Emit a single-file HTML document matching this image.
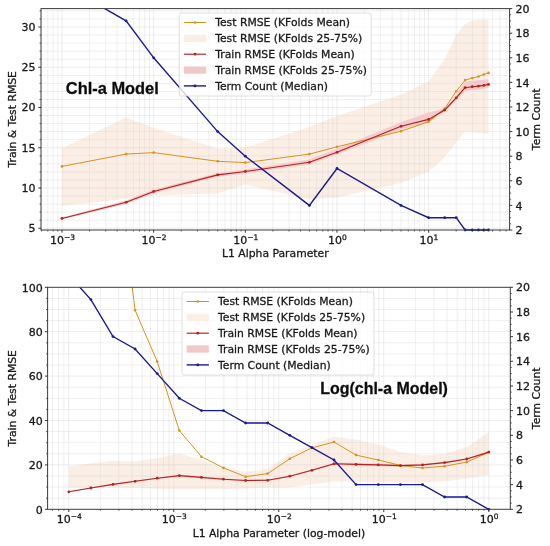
<!DOCTYPE html>
<html><head><meta charset="utf-8"><title>L1 Alpha Parameter</title>
<style>html,body{margin:0;padding:0;background:#fff}svg{display:block}text{stroke:#1a1a1a;stroke-width:0.3px}</style></head>
<body>
<svg width="550" height="546" viewBox="0 0 550 546" font-family="'DejaVu Sans','Liberation Sans',sans-serif" fill="#1a1a1a">
<rect width="550" height="546" fill="#fff"/>
<clipPath id="clipA"><rect x="41" y="8.6" width="468.6" height="221.4"/></clipPath>
<rect x="41" y="8.6" width="468.6" height="221.4" fill="#fff"/>
<g clip-path="url(#clipA)">
<polygon points="62.0,147.9 126.1,117.4 153.7,127.7 217.7,148.7 245.3,147.4 309.4,127.0 337.0,116.0 401.0,94.5 428.6,81.3 444.7,59.2 456.2,34.7 465.1,24.0 472.3,20.4 478.5,19.8 483.8,19.7 488.5,19.7 488.5,134.0 483.8,133.4 478.5,132.8 472.3,132.3 465.1,131.8 456.2,142.3 444.7,157.5 428.6,171.7 401.0,183.0 337.0,197.6 309.4,199.4 245.3,184.6 217.7,193.6 153.7,195.4 126.1,198.7 62.0,205.9" fill="#fbeee5" opacity="1"/>
<line x1="41.67" y1="8.6" x2="41.67" y2="230.0" stroke="#d2d2d2" stroke-width="0.55" opacity="0.62"/>
<line x1="47.80" y1="8.6" x2="47.80" y2="230.0" stroke="#d2d2d2" stroke-width="0.55" opacity="0.62"/>
<line x1="53.12" y1="8.6" x2="53.12" y2="230.0" stroke="#d2d2d2" stroke-width="0.55" opacity="0.62"/>
<line x1="57.81" y1="8.6" x2="57.81" y2="230.0" stroke="#d2d2d2" stroke-width="0.55" opacity="0.62"/>
<line x1="62.00" y1="8.6" x2="62.00" y2="230.0" stroke="#c8c8c8" stroke-width="0.55" opacity="0.62"/>
<line x1="89.59" y1="8.6" x2="89.59" y2="230.0" stroke="#d2d2d2" stroke-width="0.55" opacity="0.62"/>
<line x1="105.73" y1="8.6" x2="105.73" y2="230.0" stroke="#d2d2d2" stroke-width="0.55" opacity="0.62"/>
<line x1="117.18" y1="8.6" x2="117.18" y2="230.0" stroke="#d2d2d2" stroke-width="0.55" opacity="0.62"/>
<line x1="126.06" y1="8.6" x2="126.06" y2="230.0" stroke="#d2d2d2" stroke-width="0.55" opacity="0.62"/>
<line x1="133.32" y1="8.6" x2="133.32" y2="230.0" stroke="#d2d2d2" stroke-width="0.55" opacity="0.62"/>
<line x1="139.45" y1="8.6" x2="139.45" y2="230.0" stroke="#d2d2d2" stroke-width="0.55" opacity="0.62"/>
<line x1="144.77" y1="8.6" x2="144.77" y2="230.0" stroke="#d2d2d2" stroke-width="0.55" opacity="0.62"/>
<line x1="149.46" y1="8.6" x2="149.46" y2="230.0" stroke="#d2d2d2" stroke-width="0.55" opacity="0.62"/>
<line x1="153.65" y1="8.6" x2="153.65" y2="230.0" stroke="#c8c8c8" stroke-width="0.55" opacity="0.62"/>
<line x1="181.24" y1="8.6" x2="181.24" y2="230.0" stroke="#d2d2d2" stroke-width="0.55" opacity="0.62"/>
<line x1="197.38" y1="8.6" x2="197.38" y2="230.0" stroke="#d2d2d2" stroke-width="0.55" opacity="0.62"/>
<line x1="208.83" y1="8.6" x2="208.83" y2="230.0" stroke="#d2d2d2" stroke-width="0.55" opacity="0.62"/>
<line x1="217.71" y1="8.6" x2="217.71" y2="230.0" stroke="#d2d2d2" stroke-width="0.55" opacity="0.62"/>
<line x1="224.97" y1="8.6" x2="224.97" y2="230.0" stroke="#d2d2d2" stroke-width="0.55" opacity="0.62"/>
<line x1="231.10" y1="8.6" x2="231.10" y2="230.0" stroke="#d2d2d2" stroke-width="0.55" opacity="0.62"/>
<line x1="236.42" y1="8.6" x2="236.42" y2="230.0" stroke="#d2d2d2" stroke-width="0.55" opacity="0.62"/>
<line x1="241.11" y1="8.6" x2="241.11" y2="230.0" stroke="#d2d2d2" stroke-width="0.55" opacity="0.62"/>
<line x1="245.30" y1="8.6" x2="245.30" y2="230.0" stroke="#c8c8c8" stroke-width="0.55" opacity="0.62"/>
<line x1="272.89" y1="8.6" x2="272.89" y2="230.0" stroke="#d2d2d2" stroke-width="0.55" opacity="0.62"/>
<line x1="289.03" y1="8.6" x2="289.03" y2="230.0" stroke="#d2d2d2" stroke-width="0.55" opacity="0.62"/>
<line x1="300.48" y1="8.6" x2="300.48" y2="230.0" stroke="#d2d2d2" stroke-width="0.55" opacity="0.62"/>
<line x1="309.36" y1="8.6" x2="309.36" y2="230.0" stroke="#d2d2d2" stroke-width="0.55" opacity="0.62"/>
<line x1="316.62" y1="8.6" x2="316.62" y2="230.0" stroke="#d2d2d2" stroke-width="0.55" opacity="0.62"/>
<line x1="322.75" y1="8.6" x2="322.75" y2="230.0" stroke="#d2d2d2" stroke-width="0.55" opacity="0.62"/>
<line x1="328.07" y1="8.6" x2="328.07" y2="230.0" stroke="#d2d2d2" stroke-width="0.55" opacity="0.62"/>
<line x1="332.76" y1="8.6" x2="332.76" y2="230.0" stroke="#d2d2d2" stroke-width="0.55" opacity="0.62"/>
<line x1="336.95" y1="8.6" x2="336.95" y2="230.0" stroke="#c8c8c8" stroke-width="0.55" opacity="0.62"/>
<line x1="364.54" y1="8.6" x2="364.54" y2="230.0" stroke="#d2d2d2" stroke-width="0.55" opacity="0.62"/>
<line x1="380.68" y1="8.6" x2="380.68" y2="230.0" stroke="#d2d2d2" stroke-width="0.55" opacity="0.62"/>
<line x1="392.13" y1="8.6" x2="392.13" y2="230.0" stroke="#d2d2d2" stroke-width="0.55" opacity="0.62"/>
<line x1="401.01" y1="8.6" x2="401.01" y2="230.0" stroke="#d2d2d2" stroke-width="0.55" opacity="0.62"/>
<line x1="408.27" y1="8.6" x2="408.27" y2="230.0" stroke="#d2d2d2" stroke-width="0.55" opacity="0.62"/>
<line x1="414.40" y1="8.6" x2="414.40" y2="230.0" stroke="#d2d2d2" stroke-width="0.55" opacity="0.62"/>
<line x1="419.72" y1="8.6" x2="419.72" y2="230.0" stroke="#d2d2d2" stroke-width="0.55" opacity="0.62"/>
<line x1="424.41" y1="8.6" x2="424.41" y2="230.0" stroke="#d2d2d2" stroke-width="0.55" opacity="0.62"/>
<line x1="428.60" y1="8.6" x2="428.60" y2="230.0" stroke="#c8c8c8" stroke-width="0.55" opacity="0.62"/>
<line x1="456.19" y1="8.6" x2="456.19" y2="230.0" stroke="#d2d2d2" stroke-width="0.55" opacity="0.62"/>
<line x1="472.33" y1="8.6" x2="472.33" y2="230.0" stroke="#d2d2d2" stroke-width="0.55" opacity="0.62"/>
<line x1="483.78" y1="8.6" x2="483.78" y2="230.0" stroke="#d2d2d2" stroke-width="0.55" opacity="0.62"/>
<line x1="492.66" y1="8.6" x2="492.66" y2="230.0" stroke="#d2d2d2" stroke-width="0.55" opacity="0.62"/>
<line x1="499.92" y1="8.6" x2="499.92" y2="230.0" stroke="#d2d2d2" stroke-width="0.55" opacity="0.62"/>
<line x1="506.05" y1="8.6" x2="506.05" y2="230.0" stroke="#d2d2d2" stroke-width="0.55" opacity="0.62"/>
<line x1="41" y1="228.25" x2="509.6" y2="228.25" stroke="#c8c8c8" stroke-width="0.55" opacity="0.62"/>
<line x1="41" y1="220.20" x2="509.6" y2="220.20" stroke="#d2d2d2" stroke-width="0.55" opacity="0.62"/>
<line x1="41" y1="212.15" x2="509.6" y2="212.15" stroke="#d2d2d2" stroke-width="0.55" opacity="0.62"/>
<line x1="41" y1="204.10" x2="509.6" y2="204.10" stroke="#d2d2d2" stroke-width="0.55" opacity="0.62"/>
<line x1="41" y1="196.05" x2="509.6" y2="196.05" stroke="#d2d2d2" stroke-width="0.55" opacity="0.62"/>
<line x1="41" y1="188.00" x2="509.6" y2="188.00" stroke="#c8c8c8" stroke-width="0.55" opacity="0.62"/>
<line x1="41" y1="179.95" x2="509.6" y2="179.95" stroke="#d2d2d2" stroke-width="0.55" opacity="0.62"/>
<line x1="41" y1="171.90" x2="509.6" y2="171.90" stroke="#d2d2d2" stroke-width="0.55" opacity="0.62"/>
<line x1="41" y1="163.85" x2="509.6" y2="163.85" stroke="#d2d2d2" stroke-width="0.55" opacity="0.62"/>
<line x1="41" y1="155.80" x2="509.6" y2="155.80" stroke="#d2d2d2" stroke-width="0.55" opacity="0.62"/>
<line x1="41" y1="147.75" x2="509.6" y2="147.75" stroke="#c8c8c8" stroke-width="0.55" opacity="0.62"/>
<line x1="41" y1="139.70" x2="509.6" y2="139.70" stroke="#d2d2d2" stroke-width="0.55" opacity="0.62"/>
<line x1="41" y1="131.65" x2="509.6" y2="131.65" stroke="#d2d2d2" stroke-width="0.55" opacity="0.62"/>
<line x1="41" y1="123.60" x2="509.6" y2="123.60" stroke="#d2d2d2" stroke-width="0.55" opacity="0.62"/>
<line x1="41" y1="115.55" x2="509.6" y2="115.55" stroke="#d2d2d2" stroke-width="0.55" opacity="0.62"/>
<line x1="41" y1="107.50" x2="509.6" y2="107.50" stroke="#c8c8c8" stroke-width="0.55" opacity="0.62"/>
<line x1="41" y1="99.45" x2="509.6" y2="99.45" stroke="#d2d2d2" stroke-width="0.55" opacity="0.62"/>
<line x1="41" y1="91.40" x2="509.6" y2="91.40" stroke="#d2d2d2" stroke-width="0.55" opacity="0.62"/>
<line x1="41" y1="83.35" x2="509.6" y2="83.35" stroke="#d2d2d2" stroke-width="0.55" opacity="0.62"/>
<line x1="41" y1="75.30" x2="509.6" y2="75.30" stroke="#d2d2d2" stroke-width="0.55" opacity="0.62"/>
<line x1="41" y1="67.25" x2="509.6" y2="67.25" stroke="#c8c8c8" stroke-width="0.55" opacity="0.62"/>
<line x1="41" y1="59.20" x2="509.6" y2="59.20" stroke="#d2d2d2" stroke-width="0.55" opacity="0.62"/>
<line x1="41" y1="51.15" x2="509.6" y2="51.15" stroke="#d2d2d2" stroke-width="0.55" opacity="0.62"/>
<line x1="41" y1="43.10" x2="509.6" y2="43.10" stroke="#d2d2d2" stroke-width="0.55" opacity="0.62"/>
<line x1="41" y1="35.05" x2="509.6" y2="35.05" stroke="#d2d2d2" stroke-width="0.55" opacity="0.62"/>
<line x1="41" y1="27.00" x2="509.6" y2="27.00" stroke="#c8c8c8" stroke-width="0.55" opacity="0.62"/>
<line x1="41" y1="18.95" x2="509.6" y2="18.95" stroke="#d2d2d2" stroke-width="0.55" opacity="0.62"/>
<line x1="41" y1="10.90" x2="509.6" y2="10.90" stroke="#d2d2d2" stroke-width="0.55" opacity="0.62"/>
<polygon points="62.0,217.5 126.1,200.6 153.7,189.6 217.7,172.9 245.3,169.5 309.4,159.5 337.0,148.7 401.0,122.2 428.6,112.4 444.7,108.5 456.2,95.0 465.1,81.4 472.3,80.7 478.5,80.3 483.8,79.8 488.5,79.2 488.5,87.7 483.8,88.7 478.5,89.4 472.3,90.0 465.1,91.0 456.2,100.5 444.7,111.8 428.6,122.2 401.0,129.4 337.0,154.6 309.4,164.6 245.3,173.4 217.7,176.8 153.7,193.3 126.1,203.9 62.0,219.5" fill="#f1c8c8" opacity="0.9"/>
<polyline points="62.0,166.4 126.1,154.1 153.7,152.6 217.7,161.3 245.3,162.6 309.4,154.1 337.0,146.8 401.0,131.2 428.6,121.7 444.7,108.5 456.2,91.3 465.1,80.1 472.3,78.1 478.5,76.5 483.8,74.5 488.5,72.9" fill="none" stroke="#d4941e" stroke-width="1.0" stroke-linejoin="round"/>
<circle cx="62.0" cy="166.4" r="1.3" fill="#d4941e"/>
<circle cx="126.1" cy="154.1" r="1.3" fill="#d4941e"/>
<circle cx="153.7" cy="152.6" r="1.3" fill="#d4941e"/>
<circle cx="217.7" cy="161.3" r="1.3" fill="#d4941e"/>
<circle cx="245.3" cy="162.6" r="1.3" fill="#d4941e"/>
<circle cx="309.4" cy="154.1" r="1.3" fill="#d4941e"/>
<circle cx="337.0" cy="146.8" r="1.3" fill="#d4941e"/>
<circle cx="401.0" cy="131.2" r="1.3" fill="#d4941e"/>
<circle cx="428.6" cy="121.7" r="1.3" fill="#d4941e"/>
<circle cx="444.7" cy="108.5" r="1.3" fill="#d4941e"/>
<circle cx="456.2" cy="91.3" r="1.3" fill="#d4941e"/>
<circle cx="465.1" cy="80.1" r="1.3" fill="#d4941e"/>
<circle cx="472.3" cy="78.1" r="1.3" fill="#d4941e"/>
<circle cx="478.5" cy="76.5" r="1.3" fill="#d4941e"/>
<circle cx="483.8" cy="74.5" r="1.3" fill="#d4941e"/>
<circle cx="488.5" cy="72.9" r="1.3" fill="#d4941e"/>
<polyline points="62.0,218.5 126.1,202.3 153.7,191.5 217.7,174.9 245.3,171.5 309.4,162.3 337.0,152.3 401.0,126.3 428.6,119.4 444.7,110.1 456.2,97.9 465.1,87.7 472.3,86.7 478.5,86.1 483.8,85.4 488.5,84.4" fill="none" stroke="#b81f1f" stroke-width="1.15" stroke-linejoin="round"/>
<circle cx="62.0" cy="218.5" r="1.4" fill="#b81f1f"/>
<circle cx="126.1" cy="202.3" r="1.4" fill="#b81f1f"/>
<circle cx="153.7" cy="191.5" r="1.4" fill="#b81f1f"/>
<circle cx="217.7" cy="174.9" r="1.4" fill="#b81f1f"/>
<circle cx="245.3" cy="171.5" r="1.4" fill="#b81f1f"/>
<circle cx="309.4" cy="162.3" r="1.4" fill="#b81f1f"/>
<circle cx="337.0" cy="152.3" r="1.4" fill="#b81f1f"/>
<circle cx="401.0" cy="126.3" r="1.4" fill="#b81f1f"/>
<circle cx="428.6" cy="119.4" r="1.4" fill="#b81f1f"/>
<circle cx="444.7" cy="110.1" r="1.4" fill="#b81f1f"/>
<circle cx="456.2" cy="97.9" r="1.4" fill="#b81f1f"/>
<circle cx="465.1" cy="87.7" r="1.4" fill="#b81f1f"/>
<circle cx="472.3" cy="86.7" r="1.4" fill="#b81f1f"/>
<circle cx="478.5" cy="86.1" r="1.4" fill="#b81f1f"/>
<circle cx="483.8" cy="85.4" r="1.4" fill="#b81f1f"/>
<circle cx="488.5" cy="84.4" r="1.4" fill="#b81f1f"/>
</g>
<clipPath id="clipbA"><rect x="41" y="8.6" width="468.6" height="224.4"/></clipPath>
<g clip-path="url(#clipbA)">
<polyline points="62.0,-16.0 126.1,20.9 153.7,57.8 217.7,131.6 245.3,156.2 309.4,205.4 337.0,168.5 401.0,205.4 428.6,217.7 444.7,217.7 456.2,217.7 465.1,230.0 472.3,230.0 478.5,230.0 483.8,230.0 488.5,230.0" fill="none" stroke="#1a1a94" stroke-width="1.4" stroke-linejoin="miter"/>
<circle cx="62.0" cy="-16.0" r="1.4" fill="#1a1a94"/>
<circle cx="126.1" cy="20.9" r="1.4" fill="#1a1a94"/>
<circle cx="153.7" cy="57.8" r="1.4" fill="#1a1a94"/>
<circle cx="217.7" cy="131.6" r="1.4" fill="#1a1a94"/>
<circle cx="245.3" cy="156.2" r="1.4" fill="#1a1a94"/>
<circle cx="309.4" cy="205.4" r="1.4" fill="#1a1a94"/>
<circle cx="337.0" cy="168.5" r="1.4" fill="#1a1a94"/>
<circle cx="401.0" cy="205.4" r="1.4" fill="#1a1a94"/>
<circle cx="428.6" cy="217.7" r="1.4" fill="#1a1a94"/>
<circle cx="444.7" cy="217.7" r="1.4" fill="#1a1a94"/>
<circle cx="456.2" cy="217.7" r="1.4" fill="#1a1a94"/>
<circle cx="465.1" cy="230.0" r="1.4" fill="#1a1a94"/>
<circle cx="472.3" cy="230.0" r="1.4" fill="#1a1a94"/>
<circle cx="478.5" cy="230.0" r="1.4" fill="#1a1a94"/>
<circle cx="483.8" cy="230.0" r="1.4" fill="#1a1a94"/>
<circle cx="488.5" cy="230.0" r="1.4" fill="#1a1a94"/>
</g>
<rect x="41" y="8.6" width="468.6" height="221.4" fill="none" stroke="#3c3c3c" stroke-width="1"/>
<line x1="38.3" y1="228.25" x2="41" y2="228.25" stroke="#222" stroke-width="0.9"/>
<text x="35.4" y="232.1" text-anchor="end" font-size="11">5</text>
<line x1="39.5" y1="220.20" x2="41" y2="220.20" stroke="#222" stroke-width="0.7"/>
<line x1="39.5" y1="212.15" x2="41" y2="212.15" stroke="#222" stroke-width="0.7"/>
<line x1="39.5" y1="204.10" x2="41" y2="204.10" stroke="#222" stroke-width="0.7"/>
<line x1="39.5" y1="196.05" x2="41" y2="196.05" stroke="#222" stroke-width="0.7"/>
<line x1="38.3" y1="188.00" x2="41" y2="188.00" stroke="#222" stroke-width="0.9"/>
<text x="35.4" y="191.8" text-anchor="end" font-size="11">10</text>
<line x1="39.5" y1="179.95" x2="41" y2="179.95" stroke="#222" stroke-width="0.7"/>
<line x1="39.5" y1="171.90" x2="41" y2="171.90" stroke="#222" stroke-width="0.7"/>
<line x1="39.5" y1="163.85" x2="41" y2="163.85" stroke="#222" stroke-width="0.7"/>
<line x1="39.5" y1="155.80" x2="41" y2="155.80" stroke="#222" stroke-width="0.7"/>
<line x1="38.3" y1="147.75" x2="41" y2="147.75" stroke="#222" stroke-width="0.9"/>
<text x="35.4" y="151.6" text-anchor="end" font-size="11">15</text>
<line x1="39.5" y1="139.70" x2="41" y2="139.70" stroke="#222" stroke-width="0.7"/>
<line x1="39.5" y1="131.65" x2="41" y2="131.65" stroke="#222" stroke-width="0.7"/>
<line x1="39.5" y1="123.60" x2="41" y2="123.60" stroke="#222" stroke-width="0.7"/>
<line x1="39.5" y1="115.55" x2="41" y2="115.55" stroke="#222" stroke-width="0.7"/>
<line x1="38.3" y1="107.50" x2="41" y2="107.50" stroke="#222" stroke-width="0.9"/>
<text x="35.4" y="111.3" text-anchor="end" font-size="11">20</text>
<line x1="39.5" y1="99.45" x2="41" y2="99.45" stroke="#222" stroke-width="0.7"/>
<line x1="39.5" y1="91.40" x2="41" y2="91.40" stroke="#222" stroke-width="0.7"/>
<line x1="39.5" y1="83.35" x2="41" y2="83.35" stroke="#222" stroke-width="0.7"/>
<line x1="39.5" y1="75.30" x2="41" y2="75.30" stroke="#222" stroke-width="0.7"/>
<line x1="38.3" y1="67.25" x2="41" y2="67.25" stroke="#222" stroke-width="0.9"/>
<text x="35.4" y="71.0" text-anchor="end" font-size="11">25</text>
<line x1="39.5" y1="59.20" x2="41" y2="59.20" stroke="#222" stroke-width="0.7"/>
<line x1="39.5" y1="51.15" x2="41" y2="51.15" stroke="#222" stroke-width="0.7"/>
<line x1="39.5" y1="43.10" x2="41" y2="43.10" stroke="#222" stroke-width="0.7"/>
<line x1="39.5" y1="35.05" x2="41" y2="35.05" stroke="#222" stroke-width="0.7"/>
<line x1="38.3" y1="27.00" x2="41" y2="27.00" stroke="#222" stroke-width="0.9"/>
<text x="35.4" y="30.8" text-anchor="end" font-size="11">30</text>
<line x1="39.5" y1="18.95" x2="41" y2="18.95" stroke="#222" stroke-width="0.7"/>
<line x1="39.5" y1="10.90" x2="41" y2="10.90" stroke="#222" stroke-width="0.7"/>
<line x1="509.6" y1="230.00" x2="512.3000000000001" y2="230.00" stroke="#222" stroke-width="0.9"/>
<text x="515.6" y="234.1" font-size="11">2</text>
<line x1="509.6" y1="223.85" x2="511.1" y2="223.85" stroke="#222" stroke-width="0.7"/>
<line x1="509.6" y1="217.70" x2="511.1" y2="217.70" stroke="#222" stroke-width="0.7"/>
<line x1="509.6" y1="211.55" x2="511.1" y2="211.55" stroke="#222" stroke-width="0.7"/>
<line x1="509.6" y1="205.40" x2="512.3000000000001" y2="205.40" stroke="#222" stroke-width="0.9"/>
<text x="515.6" y="209.5" font-size="11">4</text>
<line x1="509.6" y1="199.25" x2="511.1" y2="199.25" stroke="#222" stroke-width="0.7"/>
<line x1="509.6" y1="193.10" x2="511.1" y2="193.10" stroke="#222" stroke-width="0.7"/>
<line x1="509.6" y1="186.95" x2="511.1" y2="186.95" stroke="#222" stroke-width="0.7"/>
<line x1="509.6" y1="180.80" x2="512.3000000000001" y2="180.80" stroke="#222" stroke-width="0.9"/>
<text x="515.6" y="184.9" font-size="11">6</text>
<line x1="509.6" y1="174.65" x2="511.1" y2="174.65" stroke="#222" stroke-width="0.7"/>
<line x1="509.6" y1="168.50" x2="511.1" y2="168.50" stroke="#222" stroke-width="0.7"/>
<line x1="509.6" y1="162.35" x2="511.1" y2="162.35" stroke="#222" stroke-width="0.7"/>
<line x1="509.6" y1="156.20" x2="512.3000000000001" y2="156.20" stroke="#222" stroke-width="0.9"/>
<text x="515.6" y="160.3" font-size="11">8</text>
<line x1="509.6" y1="150.05" x2="511.1" y2="150.05" stroke="#222" stroke-width="0.7"/>
<line x1="509.6" y1="143.90" x2="511.1" y2="143.90" stroke="#222" stroke-width="0.7"/>
<line x1="509.6" y1="137.75" x2="511.1" y2="137.75" stroke="#222" stroke-width="0.7"/>
<line x1="509.6" y1="131.60" x2="512.3000000000001" y2="131.60" stroke="#222" stroke-width="0.9"/>
<text x="515.6" y="135.7" font-size="11">10</text>
<line x1="509.6" y1="125.45" x2="511.1" y2="125.45" stroke="#222" stroke-width="0.7"/>
<line x1="509.6" y1="119.30" x2="511.1" y2="119.30" stroke="#222" stroke-width="0.7"/>
<line x1="509.6" y1="113.15" x2="511.1" y2="113.15" stroke="#222" stroke-width="0.7"/>
<line x1="509.6" y1="107.00" x2="512.3000000000001" y2="107.00" stroke="#222" stroke-width="0.9"/>
<text x="515.6" y="111.1" font-size="11">12</text>
<line x1="509.6" y1="100.85" x2="511.1" y2="100.85" stroke="#222" stroke-width="0.7"/>
<line x1="509.6" y1="94.70" x2="511.1" y2="94.70" stroke="#222" stroke-width="0.7"/>
<line x1="509.6" y1="88.55" x2="511.1" y2="88.55" stroke="#222" stroke-width="0.7"/>
<line x1="509.6" y1="82.40" x2="512.3000000000001" y2="82.40" stroke="#222" stroke-width="0.9"/>
<text x="515.6" y="86.5" font-size="11">14</text>
<line x1="509.6" y1="76.25" x2="511.1" y2="76.25" stroke="#222" stroke-width="0.7"/>
<line x1="509.6" y1="70.10" x2="511.1" y2="70.10" stroke="#222" stroke-width="0.7"/>
<line x1="509.6" y1="63.95" x2="511.1" y2="63.95" stroke="#222" stroke-width="0.7"/>
<line x1="509.6" y1="57.80" x2="512.3000000000001" y2="57.80" stroke="#222" stroke-width="0.9"/>
<text x="515.6" y="61.9" font-size="11">16</text>
<line x1="509.6" y1="51.65" x2="511.1" y2="51.65" stroke="#222" stroke-width="0.7"/>
<line x1="509.6" y1="45.50" x2="511.1" y2="45.50" stroke="#222" stroke-width="0.7"/>
<line x1="509.6" y1="39.35" x2="511.1" y2="39.35" stroke="#222" stroke-width="0.7"/>
<line x1="509.6" y1="33.20" x2="512.3000000000001" y2="33.20" stroke="#222" stroke-width="0.9"/>
<text x="515.6" y="37.3" font-size="11">18</text>
<line x1="509.6" y1="27.05" x2="511.1" y2="27.05" stroke="#222" stroke-width="0.7"/>
<line x1="509.6" y1="20.90" x2="511.1" y2="20.90" stroke="#222" stroke-width="0.7"/>
<line x1="509.6" y1="14.75" x2="511.1" y2="14.75" stroke="#222" stroke-width="0.7"/>
<line x1="509.6" y1="8.60" x2="512.3000000000001" y2="8.60" stroke="#222" stroke-width="0.9"/>
<text x="515.6" y="12.7" font-size="11">20</text>
<line x1="41.67" y1="230.0" x2="41.67" y2="231.5" stroke="#222" stroke-width="0.7"/>
<line x1="47.80" y1="230.0" x2="47.80" y2="231.5" stroke="#222" stroke-width="0.7"/>
<line x1="53.12" y1="230.0" x2="53.12" y2="231.5" stroke="#222" stroke-width="0.7"/>
<line x1="57.81" y1="230.0" x2="57.81" y2="231.5" stroke="#222" stroke-width="0.7"/>
<line x1="62.00" y1="230.0" x2="62.00" y2="232.7" stroke="#222" stroke-width="0.9"/>
<text x="62.4" y="243.8" text-anchor="middle" font-size="11">10<tspan dy="-3.9" font-size="7.48">−3</tspan></text>
<line x1="89.59" y1="230.0" x2="89.59" y2="231.5" stroke="#222" stroke-width="0.7"/>
<line x1="105.73" y1="230.0" x2="105.73" y2="231.5" stroke="#222" stroke-width="0.7"/>
<line x1="117.18" y1="230.0" x2="117.18" y2="231.5" stroke="#222" stroke-width="0.7"/>
<line x1="126.06" y1="230.0" x2="126.06" y2="231.5" stroke="#222" stroke-width="0.7"/>
<line x1="133.32" y1="230.0" x2="133.32" y2="231.5" stroke="#222" stroke-width="0.7"/>
<line x1="139.45" y1="230.0" x2="139.45" y2="231.5" stroke="#222" stroke-width="0.7"/>
<line x1="144.77" y1="230.0" x2="144.77" y2="231.5" stroke="#222" stroke-width="0.7"/>
<line x1="149.46" y1="230.0" x2="149.46" y2="231.5" stroke="#222" stroke-width="0.7"/>
<line x1="153.65" y1="230.0" x2="153.65" y2="232.7" stroke="#222" stroke-width="0.9"/>
<text x="154.1" y="243.8" text-anchor="middle" font-size="11">10<tspan dy="-3.9" font-size="7.48">−2</tspan></text>
<line x1="181.24" y1="230.0" x2="181.24" y2="231.5" stroke="#222" stroke-width="0.7"/>
<line x1="197.38" y1="230.0" x2="197.38" y2="231.5" stroke="#222" stroke-width="0.7"/>
<line x1="208.83" y1="230.0" x2="208.83" y2="231.5" stroke="#222" stroke-width="0.7"/>
<line x1="217.71" y1="230.0" x2="217.71" y2="231.5" stroke="#222" stroke-width="0.7"/>
<line x1="224.97" y1="230.0" x2="224.97" y2="231.5" stroke="#222" stroke-width="0.7"/>
<line x1="231.10" y1="230.0" x2="231.10" y2="231.5" stroke="#222" stroke-width="0.7"/>
<line x1="236.42" y1="230.0" x2="236.42" y2="231.5" stroke="#222" stroke-width="0.7"/>
<line x1="241.11" y1="230.0" x2="241.11" y2="231.5" stroke="#222" stroke-width="0.7"/>
<line x1="245.30" y1="230.0" x2="245.30" y2="232.7" stroke="#222" stroke-width="0.9"/>
<text x="245.7" y="243.8" text-anchor="middle" font-size="11">10<tspan dy="-3.9" font-size="7.48">−1</tspan></text>
<line x1="272.89" y1="230.0" x2="272.89" y2="231.5" stroke="#222" stroke-width="0.7"/>
<line x1="289.03" y1="230.0" x2="289.03" y2="231.5" stroke="#222" stroke-width="0.7"/>
<line x1="300.48" y1="230.0" x2="300.48" y2="231.5" stroke="#222" stroke-width="0.7"/>
<line x1="309.36" y1="230.0" x2="309.36" y2="231.5" stroke="#222" stroke-width="0.7"/>
<line x1="316.62" y1="230.0" x2="316.62" y2="231.5" stroke="#222" stroke-width="0.7"/>
<line x1="322.75" y1="230.0" x2="322.75" y2="231.5" stroke="#222" stroke-width="0.7"/>
<line x1="328.07" y1="230.0" x2="328.07" y2="231.5" stroke="#222" stroke-width="0.7"/>
<line x1="332.76" y1="230.0" x2="332.76" y2="231.5" stroke="#222" stroke-width="0.7"/>
<line x1="336.95" y1="230.0" x2="336.95" y2="232.7" stroke="#222" stroke-width="0.9"/>
<text x="337.4" y="243.8" text-anchor="middle" font-size="11">10<tspan dy="-3.9" font-size="7.48">0</tspan></text>
<line x1="364.54" y1="230.0" x2="364.54" y2="231.5" stroke="#222" stroke-width="0.7"/>
<line x1="380.68" y1="230.0" x2="380.68" y2="231.5" stroke="#222" stroke-width="0.7"/>
<line x1="392.13" y1="230.0" x2="392.13" y2="231.5" stroke="#222" stroke-width="0.7"/>
<line x1="401.01" y1="230.0" x2="401.01" y2="231.5" stroke="#222" stroke-width="0.7"/>
<line x1="408.27" y1="230.0" x2="408.27" y2="231.5" stroke="#222" stroke-width="0.7"/>
<line x1="414.40" y1="230.0" x2="414.40" y2="231.5" stroke="#222" stroke-width="0.7"/>
<line x1="419.72" y1="230.0" x2="419.72" y2="231.5" stroke="#222" stroke-width="0.7"/>
<line x1="424.41" y1="230.0" x2="424.41" y2="231.5" stroke="#222" stroke-width="0.7"/>
<line x1="428.60" y1="230.0" x2="428.60" y2="232.7" stroke="#222" stroke-width="0.9"/>
<text x="429.0" y="243.8" text-anchor="middle" font-size="11">10<tspan dy="-3.9" font-size="7.48">1</tspan></text>
<line x1="456.19" y1="230.0" x2="456.19" y2="231.5" stroke="#222" stroke-width="0.7"/>
<line x1="472.33" y1="230.0" x2="472.33" y2="231.5" stroke="#222" stroke-width="0.7"/>
<line x1="483.78" y1="230.0" x2="483.78" y2="231.5" stroke="#222" stroke-width="0.7"/>
<line x1="492.66" y1="230.0" x2="492.66" y2="231.5" stroke="#222" stroke-width="0.7"/>
<line x1="499.92" y1="230.0" x2="499.92" y2="231.5" stroke="#222" stroke-width="0.7"/>
<line x1="506.05" y1="230.0" x2="506.05" y2="231.5" stroke="#222" stroke-width="0.7"/>
<text x="275.3" y="257.2" text-anchor="middle" font-size="10.8">L1 Alpha Parameter</text>
<text transform="translate(16.2,119.3) rotate(-90)" text-anchor="middle" font-size="10.8">Train &amp; Test RMSE</text>
<text transform="translate(540.2,119.3) rotate(-90)" text-anchor="middle" font-size="10.8">Term Count</text>
<rect x="179.2" y="13.0" width="192.0" height="83.0" rx="2.2" fill="#fff" fill-opacity="0.8" stroke="#ccc" stroke-opacity="0.8" stroke-width="0.8"/>
<line x1="183.9" y1="22.5" x2="206.1" y2="22.5" stroke="#d4941e" stroke-width="1.0"/><circle cx="195.0" cy="22.5" r="1.3" fill="#d4941e"/>
<text x="215.2" y="26.4" font-size="10.8">Test RMSE (KFolds Mean)</text>
<rect x="183.9" y="34.8" width="22.2" height="7.2" fill="#fbeee5"/>
<text x="215.2" y="42.2" font-size="10.8">Test RMSE (KFolds 25-75%)</text>
<line x1="183.9" y1="54.2" x2="206.1" y2="54.2" stroke="#b81f1f" stroke-width="1.15"/><circle cx="195.0" cy="54.2" r="1.4" fill="#b81f1f"/>
<text x="215.2" y="58.1" font-size="10.8">Train RMSE (KFolds Mean)</text>
<rect x="183.9" y="66.5" width="22.2" height="7.2" fill="#f1c8c8"/>
<text x="215.2" y="74.0" font-size="10.8">Train RMSE (KFolds 25-75%)</text>
<line x1="183.9" y1="85.9" x2="206.1" y2="85.9" stroke="#1a1a94" stroke-width="1.4"/><circle cx="195.0" cy="85.9" r="1.4" fill="#1a1a94"/>
<text x="215.2" y="89.8" font-size="10.8">Term Count (Median)</text>
<text x="65.8" y="93.6" font-family="'Liberation Sans','DejaVu Sans',sans-serif" font-weight="bold" font-size="17" textLength="93" lengthAdjust="spacingAndGlyphs" fill="#0a0a0a">Chl-a Model</text>
<clipPath id="clipB"><rect x="47.6" y="287.3" width="462.7" height="222.0"/></clipPath>
<rect x="47.6" y="287.3" width="462.7" height="222.0" fill="#fff"/>
<g clip-path="url(#clipB)">
<polygon points="68.8,466.4 90.9,463.3 113.0,461.0 135.1,461.6 157.2,458.2 179.3,453.6 201.4,459.9 223.5,468.5 245.6,471.8 267.7,469.0 289.8,453.5 311.9,444.6 334.0,436.5 356.1,439.8 378.3,444.5 400.4,452.0 422.5,455.2 444.6,453.8 466.7,447.0 488.8,432.3 488.8,474.9 466.7,478.7 444.6,481.3 422.5,482.6 400.4,482.6 378.3,482.6 356.1,481.6 334.0,481.5 311.9,484.4 289.8,487.4 267.7,487.7 245.6,488.5 223.5,489.0 201.4,489.3 179.3,489.3 157.2,488.7 135.1,487.9 113.0,487.8 90.9,487.6 68.8,487.4" fill="#fbeee5" opacity="1"/>
<line x1="52.48" y1="287.3" x2="52.48" y2="509.3" stroke="#d2d2d2" stroke-width="0.55" opacity="0.62"/>
<line x1="58.57" y1="287.3" x2="58.57" y2="509.3" stroke="#d2d2d2" stroke-width="0.55" opacity="0.62"/>
<line x1="63.95" y1="287.3" x2="63.95" y2="509.3" stroke="#d2d2d2" stroke-width="0.55" opacity="0.62"/>
<line x1="68.75" y1="287.3" x2="68.75" y2="509.3" stroke="#c8c8c8" stroke-width="0.55" opacity="0.62"/>
<line x1="100.36" y1="287.3" x2="100.36" y2="509.3" stroke="#d2d2d2" stroke-width="0.55" opacity="0.62"/>
<line x1="118.85" y1="287.3" x2="118.85" y2="509.3" stroke="#d2d2d2" stroke-width="0.55" opacity="0.62"/>
<line x1="131.97" y1="287.3" x2="131.97" y2="509.3" stroke="#d2d2d2" stroke-width="0.55" opacity="0.62"/>
<line x1="142.15" y1="287.3" x2="142.15" y2="509.3" stroke="#d2d2d2" stroke-width="0.55" opacity="0.62"/>
<line x1="150.46" y1="287.3" x2="150.46" y2="509.3" stroke="#d2d2d2" stroke-width="0.55" opacity="0.62"/>
<line x1="157.49" y1="287.3" x2="157.49" y2="509.3" stroke="#d2d2d2" stroke-width="0.55" opacity="0.62"/>
<line x1="163.58" y1="287.3" x2="163.58" y2="509.3" stroke="#d2d2d2" stroke-width="0.55" opacity="0.62"/>
<line x1="168.96" y1="287.3" x2="168.96" y2="509.3" stroke="#d2d2d2" stroke-width="0.55" opacity="0.62"/>
<line x1="173.76" y1="287.3" x2="173.76" y2="509.3" stroke="#c8c8c8" stroke-width="0.55" opacity="0.62"/>
<line x1="205.37" y1="287.3" x2="205.37" y2="509.3" stroke="#d2d2d2" stroke-width="0.55" opacity="0.62"/>
<line x1="223.86" y1="287.3" x2="223.86" y2="509.3" stroke="#d2d2d2" stroke-width="0.55" opacity="0.62"/>
<line x1="236.98" y1="287.3" x2="236.98" y2="509.3" stroke="#d2d2d2" stroke-width="0.55" opacity="0.62"/>
<line x1="247.16" y1="287.3" x2="247.16" y2="509.3" stroke="#d2d2d2" stroke-width="0.55" opacity="0.62"/>
<line x1="255.47" y1="287.3" x2="255.47" y2="509.3" stroke="#d2d2d2" stroke-width="0.55" opacity="0.62"/>
<line x1="262.50" y1="287.3" x2="262.50" y2="509.3" stroke="#d2d2d2" stroke-width="0.55" opacity="0.62"/>
<line x1="268.59" y1="287.3" x2="268.59" y2="509.3" stroke="#d2d2d2" stroke-width="0.55" opacity="0.62"/>
<line x1="273.97" y1="287.3" x2="273.97" y2="509.3" stroke="#d2d2d2" stroke-width="0.55" opacity="0.62"/>
<line x1="278.77" y1="287.3" x2="278.77" y2="509.3" stroke="#c8c8c8" stroke-width="0.55" opacity="0.62"/>
<line x1="310.38" y1="287.3" x2="310.38" y2="509.3" stroke="#d2d2d2" stroke-width="0.55" opacity="0.62"/>
<line x1="328.87" y1="287.3" x2="328.87" y2="509.3" stroke="#d2d2d2" stroke-width="0.55" opacity="0.62"/>
<line x1="341.99" y1="287.3" x2="341.99" y2="509.3" stroke="#d2d2d2" stroke-width="0.55" opacity="0.62"/>
<line x1="352.17" y1="287.3" x2="352.17" y2="509.3" stroke="#d2d2d2" stroke-width="0.55" opacity="0.62"/>
<line x1="360.48" y1="287.3" x2="360.48" y2="509.3" stroke="#d2d2d2" stroke-width="0.55" opacity="0.62"/>
<line x1="367.51" y1="287.3" x2="367.51" y2="509.3" stroke="#d2d2d2" stroke-width="0.55" opacity="0.62"/>
<line x1="373.60" y1="287.3" x2="373.60" y2="509.3" stroke="#d2d2d2" stroke-width="0.55" opacity="0.62"/>
<line x1="378.98" y1="287.3" x2="378.98" y2="509.3" stroke="#d2d2d2" stroke-width="0.55" opacity="0.62"/>
<line x1="383.78" y1="287.3" x2="383.78" y2="509.3" stroke="#c8c8c8" stroke-width="0.55" opacity="0.62"/>
<line x1="415.39" y1="287.3" x2="415.39" y2="509.3" stroke="#d2d2d2" stroke-width="0.55" opacity="0.62"/>
<line x1="433.88" y1="287.3" x2="433.88" y2="509.3" stroke="#d2d2d2" stroke-width="0.55" opacity="0.62"/>
<line x1="447.00" y1="287.3" x2="447.00" y2="509.3" stroke="#d2d2d2" stroke-width="0.55" opacity="0.62"/>
<line x1="457.18" y1="287.3" x2="457.18" y2="509.3" stroke="#d2d2d2" stroke-width="0.55" opacity="0.62"/>
<line x1="465.49" y1="287.3" x2="465.49" y2="509.3" stroke="#d2d2d2" stroke-width="0.55" opacity="0.62"/>
<line x1="472.52" y1="287.3" x2="472.52" y2="509.3" stroke="#d2d2d2" stroke-width="0.55" opacity="0.62"/>
<line x1="478.61" y1="287.3" x2="478.61" y2="509.3" stroke="#d2d2d2" stroke-width="0.55" opacity="0.62"/>
<line x1="483.99" y1="287.3" x2="483.99" y2="509.3" stroke="#d2d2d2" stroke-width="0.55" opacity="0.62"/>
<line x1="488.79" y1="287.3" x2="488.79" y2="509.3" stroke="#c8c8c8" stroke-width="0.55" opacity="0.62"/>
<line x1="47.6" y1="498.20" x2="510.3" y2="498.20" stroke="#d2d2d2" stroke-width="0.55" opacity="0.62"/>
<line x1="47.6" y1="487.10" x2="510.3" y2="487.10" stroke="#d2d2d2" stroke-width="0.55" opacity="0.62"/>
<line x1="47.6" y1="476.00" x2="510.3" y2="476.00" stroke="#d2d2d2" stroke-width="0.55" opacity="0.62"/>
<line x1="47.6" y1="464.90" x2="510.3" y2="464.90" stroke="#c8c8c8" stroke-width="0.55" opacity="0.62"/>
<line x1="47.6" y1="453.80" x2="510.3" y2="453.80" stroke="#d2d2d2" stroke-width="0.55" opacity="0.62"/>
<line x1="47.6" y1="442.70" x2="510.3" y2="442.70" stroke="#d2d2d2" stroke-width="0.55" opacity="0.62"/>
<line x1="47.6" y1="431.60" x2="510.3" y2="431.60" stroke="#d2d2d2" stroke-width="0.55" opacity="0.62"/>
<line x1="47.6" y1="420.50" x2="510.3" y2="420.50" stroke="#c8c8c8" stroke-width="0.55" opacity="0.62"/>
<line x1="47.6" y1="409.40" x2="510.3" y2="409.40" stroke="#d2d2d2" stroke-width="0.55" opacity="0.62"/>
<line x1="47.6" y1="398.30" x2="510.3" y2="398.30" stroke="#d2d2d2" stroke-width="0.55" opacity="0.62"/>
<line x1="47.6" y1="387.20" x2="510.3" y2="387.20" stroke="#d2d2d2" stroke-width="0.55" opacity="0.62"/>
<line x1="47.6" y1="376.10" x2="510.3" y2="376.10" stroke="#c8c8c8" stroke-width="0.55" opacity="0.62"/>
<line x1="47.6" y1="365.00" x2="510.3" y2="365.00" stroke="#d2d2d2" stroke-width="0.55" opacity="0.62"/>
<line x1="47.6" y1="353.90" x2="510.3" y2="353.90" stroke="#d2d2d2" stroke-width="0.55" opacity="0.62"/>
<line x1="47.6" y1="342.80" x2="510.3" y2="342.80" stroke="#d2d2d2" stroke-width="0.55" opacity="0.62"/>
<line x1="47.6" y1="331.70" x2="510.3" y2="331.70" stroke="#c8c8c8" stroke-width="0.55" opacity="0.62"/>
<line x1="47.6" y1="320.60" x2="510.3" y2="320.60" stroke="#d2d2d2" stroke-width="0.55" opacity="0.62"/>
<line x1="47.6" y1="309.50" x2="510.3" y2="309.50" stroke="#d2d2d2" stroke-width="0.55" opacity="0.62"/>
<line x1="47.6" y1="298.40" x2="510.3" y2="298.40" stroke="#d2d2d2" stroke-width="0.55" opacity="0.62"/>
<polygon points="68.8,491.2 90.9,487.4 113.0,483.8 135.1,480.7 157.2,477.6 179.3,474.7 201.4,476.5 223.5,478.3 245.6,479.8 267.7,479.6 289.8,475.5 311.9,469.6 334.0,462.5 356.1,463.1 378.3,463.6 400.4,464.3 422.5,464.1 444.6,461.8 466.7,458.2 488.8,451.3 488.8,452.9 466.7,459.8 444.6,463.4 422.5,465.7 400.4,466.9 378.3,466.2 356.1,465.7 334.0,465.1 311.9,471.0 289.8,476.9 267.7,481.0 245.6,481.2 223.5,480.1 201.4,478.3 179.3,476.5 157.2,478.8 135.1,481.9 113.0,485.0 90.9,488.6 68.8,492.4" fill="#f1c8c8" opacity="0.9"/>
<polyline points="68.8,-400.0 90.9,-200.0 113.0,134.0 135.1,310.3 157.2,361.5 179.3,430.5 201.4,456.7 223.5,467.9 245.6,476.7 267.7,473.6 289.8,458.7 311.9,447.9 334.0,442.0 356.1,455.1 378.3,460.0 400.4,465.4 422.5,468.0 444.6,466.2 466.7,462.1 488.8,452.3" fill="none" stroke="#d4941e" stroke-width="1.0" stroke-linejoin="round"/>
<circle cx="68.8" cy="-400.0" r="1.3" fill="#d4941e"/>
<circle cx="90.9" cy="-200.0" r="1.3" fill="#d4941e"/>
<circle cx="113.0" cy="134.0" r="1.3" fill="#d4941e"/>
<circle cx="135.1" cy="310.3" r="1.3" fill="#d4941e"/>
<circle cx="157.2" cy="361.5" r="1.3" fill="#d4941e"/>
<circle cx="179.3" cy="430.5" r="1.3" fill="#d4941e"/>
<circle cx="201.4" cy="456.7" r="1.3" fill="#d4941e"/>
<circle cx="223.5" cy="467.9" r="1.3" fill="#d4941e"/>
<circle cx="245.6" cy="476.7" r="1.3" fill="#d4941e"/>
<circle cx="267.7" cy="473.6" r="1.3" fill="#d4941e"/>
<circle cx="289.8" cy="458.7" r="1.3" fill="#d4941e"/>
<circle cx="311.9" cy="447.9" r="1.3" fill="#d4941e"/>
<circle cx="334.0" cy="442.0" r="1.3" fill="#d4941e"/>
<circle cx="356.1" cy="455.1" r="1.3" fill="#d4941e"/>
<circle cx="378.3" cy="460.0" r="1.3" fill="#d4941e"/>
<circle cx="400.4" cy="465.4" r="1.3" fill="#d4941e"/>
<circle cx="422.5" cy="468.0" r="1.3" fill="#d4941e"/>
<circle cx="444.6" cy="466.2" r="1.3" fill="#d4941e"/>
<circle cx="466.7" cy="462.1" r="1.3" fill="#d4941e"/>
<circle cx="488.8" cy="452.3" r="1.3" fill="#d4941e"/>
<polyline points="68.8,491.8 90.9,488.0 113.0,484.4 135.1,481.3 157.2,478.2 179.3,475.6 201.4,477.4 223.5,479.2 245.6,480.5 267.7,480.3 289.8,476.2 311.9,470.3 334.0,463.8 356.1,464.4 378.3,464.9 400.4,465.6 422.5,464.9 444.6,462.6 466.7,459.0 488.8,452.1" fill="none" stroke="#b81f1f" stroke-width="1.15" stroke-linejoin="round"/>
<circle cx="68.8" cy="491.8" r="1.4" fill="#b81f1f"/>
<circle cx="90.9" cy="488.0" r="1.4" fill="#b81f1f"/>
<circle cx="113.0" cy="484.4" r="1.4" fill="#b81f1f"/>
<circle cx="135.1" cy="481.3" r="1.4" fill="#b81f1f"/>
<circle cx="157.2" cy="478.2" r="1.4" fill="#b81f1f"/>
<circle cx="179.3" cy="475.6" r="1.4" fill="#b81f1f"/>
<circle cx="201.4" cy="477.4" r="1.4" fill="#b81f1f"/>
<circle cx="223.5" cy="479.2" r="1.4" fill="#b81f1f"/>
<circle cx="245.6" cy="480.5" r="1.4" fill="#b81f1f"/>
<circle cx="267.7" cy="480.3" r="1.4" fill="#b81f1f"/>
<circle cx="289.8" cy="476.2" r="1.4" fill="#b81f1f"/>
<circle cx="311.9" cy="470.3" r="1.4" fill="#b81f1f"/>
<circle cx="334.0" cy="463.8" r="1.4" fill="#b81f1f"/>
<circle cx="356.1" cy="464.4" r="1.4" fill="#b81f1f"/>
<circle cx="378.3" cy="464.9" r="1.4" fill="#b81f1f"/>
<circle cx="400.4" cy="465.6" r="1.4" fill="#b81f1f"/>
<circle cx="422.5" cy="464.9" r="1.4" fill="#b81f1f"/>
<circle cx="444.6" cy="462.6" r="1.4" fill="#b81f1f"/>
<circle cx="466.7" cy="459.0" r="1.4" fill="#b81f1f"/>
<circle cx="488.8" cy="452.1" r="1.4" fill="#b81f1f"/>
</g>
<clipPath id="clipbB"><rect x="47.6" y="287.3" width="462.7" height="225.0"/></clipPath>
<g clip-path="url(#clipbB)">
<polyline points="68.8,275.0 90.9,299.6 113.0,336.6 135.1,349.0 157.2,373.6 179.3,398.3 201.4,410.6 223.5,410.6 245.6,423.0 267.7,423.0 289.8,435.3 311.9,447.6 334.0,460.0 356.1,484.6 378.3,484.6 400.4,484.6 422.5,484.6 444.6,497.0 466.7,497.0 488.8,509.3" fill="none" stroke="#1a1a94" stroke-width="1.4" stroke-linejoin="miter"/>
<circle cx="68.8" cy="275.0" r="1.4" fill="#1a1a94"/>
<circle cx="90.9" cy="299.6" r="1.4" fill="#1a1a94"/>
<circle cx="113.0" cy="336.6" r="1.4" fill="#1a1a94"/>
<circle cx="135.1" cy="349.0" r="1.4" fill="#1a1a94"/>
<circle cx="157.2" cy="373.6" r="1.4" fill="#1a1a94"/>
<circle cx="179.3" cy="398.3" r="1.4" fill="#1a1a94"/>
<circle cx="201.4" cy="410.6" r="1.4" fill="#1a1a94"/>
<circle cx="223.5" cy="410.6" r="1.4" fill="#1a1a94"/>
<circle cx="245.6" cy="423.0" r="1.4" fill="#1a1a94"/>
<circle cx="267.7" cy="423.0" r="1.4" fill="#1a1a94"/>
<circle cx="289.8" cy="435.3" r="1.4" fill="#1a1a94"/>
<circle cx="311.9" cy="447.6" r="1.4" fill="#1a1a94"/>
<circle cx="334.0" cy="460.0" r="1.4" fill="#1a1a94"/>
<circle cx="356.1" cy="484.6" r="1.4" fill="#1a1a94"/>
<circle cx="378.3" cy="484.6" r="1.4" fill="#1a1a94"/>
<circle cx="400.4" cy="484.6" r="1.4" fill="#1a1a94"/>
<circle cx="422.5" cy="484.6" r="1.4" fill="#1a1a94"/>
<circle cx="444.6" cy="497.0" r="1.4" fill="#1a1a94"/>
<circle cx="466.7" cy="497.0" r="1.4" fill="#1a1a94"/>
<circle cx="488.8" cy="509.3" r="1.4" fill="#1a1a94"/>
</g>
<rect x="47.6" y="287.3" width="462.7" height="222.0" fill="none" stroke="#3c3c3c" stroke-width="1"/>
<line x1="44.9" y1="509.30" x2="47.6" y2="509.30" stroke="#222" stroke-width="0.9"/>
<text x="42.7" y="513.5" text-anchor="end" font-size="11">0</text>
<line x1="46.1" y1="498.20" x2="47.6" y2="498.20" stroke="#222" stroke-width="0.7"/>
<line x1="46.1" y1="487.10" x2="47.6" y2="487.10" stroke="#222" stroke-width="0.7"/>
<line x1="46.1" y1="476.00" x2="47.6" y2="476.00" stroke="#222" stroke-width="0.7"/>
<line x1="44.9" y1="464.90" x2="47.6" y2="464.90" stroke="#222" stroke-width="0.9"/>
<text x="42.7" y="469.1" text-anchor="end" font-size="11">20</text>
<line x1="46.1" y1="453.80" x2="47.6" y2="453.80" stroke="#222" stroke-width="0.7"/>
<line x1="46.1" y1="442.70" x2="47.6" y2="442.70" stroke="#222" stroke-width="0.7"/>
<line x1="46.1" y1="431.60" x2="47.6" y2="431.60" stroke="#222" stroke-width="0.7"/>
<line x1="44.9" y1="420.50" x2="47.6" y2="420.50" stroke="#222" stroke-width="0.9"/>
<text x="42.7" y="424.7" text-anchor="end" font-size="11">40</text>
<line x1="46.1" y1="409.40" x2="47.6" y2="409.40" stroke="#222" stroke-width="0.7"/>
<line x1="46.1" y1="398.30" x2="47.6" y2="398.30" stroke="#222" stroke-width="0.7"/>
<line x1="46.1" y1="387.20" x2="47.6" y2="387.20" stroke="#222" stroke-width="0.7"/>
<line x1="44.9" y1="376.10" x2="47.6" y2="376.10" stroke="#222" stroke-width="0.9"/>
<text x="42.7" y="380.3" text-anchor="end" font-size="11">60</text>
<line x1="46.1" y1="365.00" x2="47.6" y2="365.00" stroke="#222" stroke-width="0.7"/>
<line x1="46.1" y1="353.90" x2="47.6" y2="353.90" stroke="#222" stroke-width="0.7"/>
<line x1="46.1" y1="342.80" x2="47.6" y2="342.80" stroke="#222" stroke-width="0.7"/>
<line x1="44.9" y1="331.70" x2="47.6" y2="331.70" stroke="#222" stroke-width="0.9"/>
<text x="42.7" y="335.9" text-anchor="end" font-size="11">80</text>
<line x1="46.1" y1="320.60" x2="47.6" y2="320.60" stroke="#222" stroke-width="0.7"/>
<line x1="46.1" y1="309.50" x2="47.6" y2="309.50" stroke="#222" stroke-width="0.7"/>
<line x1="46.1" y1="298.40" x2="47.6" y2="298.40" stroke="#222" stroke-width="0.7"/>
<line x1="44.9" y1="287.30" x2="47.6" y2="287.30" stroke="#222" stroke-width="0.9"/>
<text x="42.7" y="291.5" text-anchor="end" font-size="11">100</text>
<line x1="510.3" y1="509.30" x2="513.0" y2="509.30" stroke="#222" stroke-width="0.9"/>
<text x="515.9" y="513.4" font-size="11">2</text>
<line x1="510.3" y1="503.13" x2="511.8" y2="503.13" stroke="#222" stroke-width="0.7"/>
<line x1="510.3" y1="496.97" x2="511.8" y2="496.97" stroke="#222" stroke-width="0.7"/>
<line x1="510.3" y1="490.80" x2="511.8" y2="490.80" stroke="#222" stroke-width="0.7"/>
<line x1="510.3" y1="484.63" x2="513.0" y2="484.63" stroke="#222" stroke-width="0.9"/>
<text x="515.9" y="488.7" font-size="11">4</text>
<line x1="510.3" y1="478.47" x2="511.8" y2="478.47" stroke="#222" stroke-width="0.7"/>
<line x1="510.3" y1="472.30" x2="511.8" y2="472.30" stroke="#222" stroke-width="0.7"/>
<line x1="510.3" y1="466.13" x2="511.8" y2="466.13" stroke="#222" stroke-width="0.7"/>
<line x1="510.3" y1="459.97" x2="513.0" y2="459.97" stroke="#222" stroke-width="0.9"/>
<text x="515.9" y="464.1" font-size="11">6</text>
<line x1="510.3" y1="453.80" x2="511.8" y2="453.80" stroke="#222" stroke-width="0.7"/>
<line x1="510.3" y1="447.63" x2="511.8" y2="447.63" stroke="#222" stroke-width="0.7"/>
<line x1="510.3" y1="441.47" x2="511.8" y2="441.47" stroke="#222" stroke-width="0.7"/>
<line x1="510.3" y1="435.30" x2="513.0" y2="435.30" stroke="#222" stroke-width="0.9"/>
<text x="515.9" y="439.4" font-size="11">8</text>
<line x1="510.3" y1="429.13" x2="511.8" y2="429.13" stroke="#222" stroke-width="0.7"/>
<line x1="510.3" y1="422.97" x2="511.8" y2="422.97" stroke="#222" stroke-width="0.7"/>
<line x1="510.3" y1="416.80" x2="511.8" y2="416.80" stroke="#222" stroke-width="0.7"/>
<line x1="510.3" y1="410.63" x2="513.0" y2="410.63" stroke="#222" stroke-width="0.9"/>
<text x="515.9" y="414.7" font-size="11">10</text>
<line x1="510.3" y1="404.47" x2="511.8" y2="404.47" stroke="#222" stroke-width="0.7"/>
<line x1="510.3" y1="398.30" x2="511.8" y2="398.30" stroke="#222" stroke-width="0.7"/>
<line x1="510.3" y1="392.13" x2="511.8" y2="392.13" stroke="#222" stroke-width="0.7"/>
<line x1="510.3" y1="385.97" x2="513.0" y2="385.97" stroke="#222" stroke-width="0.9"/>
<text x="515.9" y="390.1" font-size="11">12</text>
<line x1="510.3" y1="379.80" x2="511.8" y2="379.80" stroke="#222" stroke-width="0.7"/>
<line x1="510.3" y1="373.63" x2="511.8" y2="373.63" stroke="#222" stroke-width="0.7"/>
<line x1="510.3" y1="367.47" x2="511.8" y2="367.47" stroke="#222" stroke-width="0.7"/>
<line x1="510.3" y1="361.30" x2="513.0" y2="361.30" stroke="#222" stroke-width="0.9"/>
<text x="515.9" y="365.4" font-size="11">14</text>
<line x1="510.3" y1="355.13" x2="511.8" y2="355.13" stroke="#222" stroke-width="0.7"/>
<line x1="510.3" y1="348.97" x2="511.8" y2="348.97" stroke="#222" stroke-width="0.7"/>
<line x1="510.3" y1="342.80" x2="511.8" y2="342.80" stroke="#222" stroke-width="0.7"/>
<line x1="510.3" y1="336.63" x2="513.0" y2="336.63" stroke="#222" stroke-width="0.9"/>
<text x="515.9" y="340.7" font-size="11">16</text>
<line x1="510.3" y1="330.47" x2="511.8" y2="330.47" stroke="#222" stroke-width="0.7"/>
<line x1="510.3" y1="324.30" x2="511.8" y2="324.30" stroke="#222" stroke-width="0.7"/>
<line x1="510.3" y1="318.13" x2="511.8" y2="318.13" stroke="#222" stroke-width="0.7"/>
<line x1="510.3" y1="311.97" x2="513.0" y2="311.97" stroke="#222" stroke-width="0.9"/>
<text x="515.9" y="316.1" font-size="11">18</text>
<line x1="510.3" y1="305.80" x2="511.8" y2="305.80" stroke="#222" stroke-width="0.7"/>
<line x1="510.3" y1="299.63" x2="511.8" y2="299.63" stroke="#222" stroke-width="0.7"/>
<line x1="510.3" y1="293.47" x2="511.8" y2="293.47" stroke="#222" stroke-width="0.7"/>
<line x1="510.3" y1="287.30" x2="513.0" y2="287.30" stroke="#222" stroke-width="0.9"/>
<text x="515.9" y="291.4" font-size="11">20</text>
<line x1="52.48" y1="509.3" x2="52.48" y2="510.8" stroke="#222" stroke-width="0.7"/>
<line x1="58.57" y1="509.3" x2="58.57" y2="510.8" stroke="#222" stroke-width="0.7"/>
<line x1="63.95" y1="509.3" x2="63.95" y2="510.8" stroke="#222" stroke-width="0.7"/>
<line x1="68.75" y1="509.3" x2="68.75" y2="512.0" stroke="#222" stroke-width="0.9"/>
<text x="69.2" y="523.1" text-anchor="middle" font-size="11">10<tspan dy="-3.9" font-size="7.48">−4</tspan></text>
<line x1="100.36" y1="509.3" x2="100.36" y2="510.8" stroke="#222" stroke-width="0.7"/>
<line x1="118.85" y1="509.3" x2="118.85" y2="510.8" stroke="#222" stroke-width="0.7"/>
<line x1="131.97" y1="509.3" x2="131.97" y2="510.8" stroke="#222" stroke-width="0.7"/>
<line x1="142.15" y1="509.3" x2="142.15" y2="510.8" stroke="#222" stroke-width="0.7"/>
<line x1="150.46" y1="509.3" x2="150.46" y2="510.8" stroke="#222" stroke-width="0.7"/>
<line x1="157.49" y1="509.3" x2="157.49" y2="510.8" stroke="#222" stroke-width="0.7"/>
<line x1="163.58" y1="509.3" x2="163.58" y2="510.8" stroke="#222" stroke-width="0.7"/>
<line x1="168.96" y1="509.3" x2="168.96" y2="510.8" stroke="#222" stroke-width="0.7"/>
<line x1="173.76" y1="509.3" x2="173.76" y2="512.0" stroke="#222" stroke-width="0.9"/>
<text x="174.2" y="523.1" text-anchor="middle" font-size="11">10<tspan dy="-3.9" font-size="7.48">−3</tspan></text>
<line x1="205.37" y1="509.3" x2="205.37" y2="510.8" stroke="#222" stroke-width="0.7"/>
<line x1="223.86" y1="509.3" x2="223.86" y2="510.8" stroke="#222" stroke-width="0.7"/>
<line x1="236.98" y1="509.3" x2="236.98" y2="510.8" stroke="#222" stroke-width="0.7"/>
<line x1="247.16" y1="509.3" x2="247.16" y2="510.8" stroke="#222" stroke-width="0.7"/>
<line x1="255.47" y1="509.3" x2="255.47" y2="510.8" stroke="#222" stroke-width="0.7"/>
<line x1="262.50" y1="509.3" x2="262.50" y2="510.8" stroke="#222" stroke-width="0.7"/>
<line x1="268.59" y1="509.3" x2="268.59" y2="510.8" stroke="#222" stroke-width="0.7"/>
<line x1="273.97" y1="509.3" x2="273.97" y2="510.8" stroke="#222" stroke-width="0.7"/>
<line x1="278.77" y1="509.3" x2="278.77" y2="512.0" stroke="#222" stroke-width="0.9"/>
<text x="279.2" y="523.1" text-anchor="middle" font-size="11">10<tspan dy="-3.9" font-size="7.48">−2</tspan></text>
<line x1="310.38" y1="509.3" x2="310.38" y2="510.8" stroke="#222" stroke-width="0.7"/>
<line x1="328.87" y1="509.3" x2="328.87" y2="510.8" stroke="#222" stroke-width="0.7"/>
<line x1="341.99" y1="509.3" x2="341.99" y2="510.8" stroke="#222" stroke-width="0.7"/>
<line x1="352.17" y1="509.3" x2="352.17" y2="510.8" stroke="#222" stroke-width="0.7"/>
<line x1="360.48" y1="509.3" x2="360.48" y2="510.8" stroke="#222" stroke-width="0.7"/>
<line x1="367.51" y1="509.3" x2="367.51" y2="510.8" stroke="#222" stroke-width="0.7"/>
<line x1="373.60" y1="509.3" x2="373.60" y2="510.8" stroke="#222" stroke-width="0.7"/>
<line x1="378.98" y1="509.3" x2="378.98" y2="510.8" stroke="#222" stroke-width="0.7"/>
<line x1="383.78" y1="509.3" x2="383.78" y2="512.0" stroke="#222" stroke-width="0.9"/>
<text x="384.2" y="523.1" text-anchor="middle" font-size="11">10<tspan dy="-3.9" font-size="7.48">−1</tspan></text>
<line x1="415.39" y1="509.3" x2="415.39" y2="510.8" stroke="#222" stroke-width="0.7"/>
<line x1="433.88" y1="509.3" x2="433.88" y2="510.8" stroke="#222" stroke-width="0.7"/>
<line x1="447.00" y1="509.3" x2="447.00" y2="510.8" stroke="#222" stroke-width="0.7"/>
<line x1="457.18" y1="509.3" x2="457.18" y2="510.8" stroke="#222" stroke-width="0.7"/>
<line x1="465.49" y1="509.3" x2="465.49" y2="510.8" stroke="#222" stroke-width="0.7"/>
<line x1="472.52" y1="509.3" x2="472.52" y2="510.8" stroke="#222" stroke-width="0.7"/>
<line x1="478.61" y1="509.3" x2="478.61" y2="510.8" stroke="#222" stroke-width="0.7"/>
<line x1="483.99" y1="509.3" x2="483.99" y2="510.8" stroke="#222" stroke-width="0.7"/>
<line x1="488.79" y1="509.3" x2="488.79" y2="512.0" stroke="#222" stroke-width="0.9"/>
<text x="489.2" y="523.1" text-anchor="middle" font-size="11">10<tspan dy="-3.9" font-size="7.48">0</tspan></text>
<text x="278.9" y="536.5" text-anchor="middle" font-size="10.8">L1 Alpha Parameter (log-model)</text>
<text transform="translate(16.2,398.3) rotate(-90)" text-anchor="middle" font-size="10.8">Train &amp; Test RMSE</text>
<text transform="translate(540.2,398.3) rotate(-90)" text-anchor="middle" font-size="10.8">Term Count</text>
<rect x="182" y="292" width="192.0" height="83.0" rx="2.2" fill="#fff" fill-opacity="0.8" stroke="#ccc" stroke-opacity="0.8" stroke-width="0.8"/>
<line x1="186.7" y1="301.5" x2="208.9" y2="301.5" stroke="#d4941e" stroke-width="1.0"/><circle cx="197.8" cy="301.5" r="1.3" fill="#d4941e"/>
<text x="218.0" y="305.4" font-size="10.8">Test RMSE (KFolds Mean)</text>
<rect x="186.7" y="313.8" width="22.2" height="7.2" fill="#fbeee5"/>
<text x="218.0" y="321.2" font-size="10.8">Test RMSE (KFolds 25-75%)</text>
<line x1="186.7" y1="333.2" x2="208.9" y2="333.2" stroke="#b81f1f" stroke-width="1.15"/><circle cx="197.8" cy="333.2" r="1.4" fill="#b81f1f"/>
<text x="218.0" y="337.1" font-size="10.8">Train RMSE (KFolds Mean)</text>
<rect x="186.7" y="345.4" width="22.2" height="7.2" fill="#f1c8c8"/>
<text x="218.0" y="352.9" font-size="10.8">Train RMSE (KFolds 25-75%)</text>
<line x1="186.7" y1="364.9" x2="208.9" y2="364.9" stroke="#1a1a94" stroke-width="1.4"/><circle cx="197.8" cy="364.9" r="1.4" fill="#1a1a94"/>
<text x="218.0" y="368.8" font-size="10.8">Term Count (Median)</text>
<text x="320.2" y="394.3" font-family="'Liberation Sans','DejaVu Sans',sans-serif" font-weight="bold" font-size="17" textLength="127.7" lengthAdjust="spacingAndGlyphs" fill="#0a0a0a">Log(chl-a Model)</text>
</svg>
</body></html>
